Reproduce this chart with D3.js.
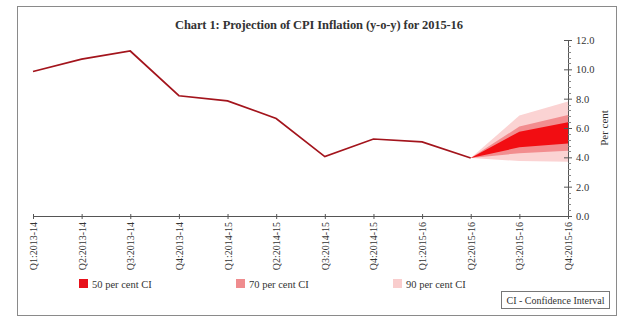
<!DOCTYPE html>
<html>
<head>
<meta charset="utf-8">
<script src="https://cdn.jsdelivr.net/npm/d3@7.9.0/dist/d3.min.js"></script>
<style>
  body { margin: 0; background: #fff; }
  svg text { font-family: "Liberation Serif", "DejaVu Serif", serif; fill: #333; }
</style>
</head>
<body>
<svg width="630" height="324"></svg>
<script>
// Quarters on the x axis
const categories = [
  'Q1:2013-14', 'Q2:2013-14', 'Q3:2013-14', 'Q4:2013-14',
  'Q1:2014-15', 'Q2:2014-15', 'Q3:2014-15', 'Q4:2014-15',
  'Q1:2015-16', 'Q2:2015-16', 'Q3:2015-16', 'Q4:2015-16'
];

// Actual CPI inflation (per cent)
const actual = [9.85, 10.7, 11.25, 8.2, 7.85, 6.65, 4.05, 5.25, 5.05, 3.95];

// Projection fan, starting from Q2:2015-16
const fanQuarters = ['Q2:2015-16', 'Q3:2015-16', 'Q4:2015-16'];
const ci90Upper = [3.95, 6.85, 7.8];
const ci90Lower = [3.95, 3.75, 3.7];
const ci70Upper = [3.95, 6.1, 6.88];
const ci70Lower = [3.95, 4.28, 4.45];
const ci50Upper = [3.95, 5.75, 6.4];
const ci50Lower = [3.95, 4.68, 4.95];

const yTicks = [0, 2, 4, 6, 8, 10, 12];

const svg = d3.select('svg');

// Outer frame
svg.append('rect')
  .attr('x', 17.5).attr('y', 6.5)
  .attr('width', 599).attr('height', 309)
  .attr('fill', 'none').attr('stroke', '#8a8a8a');

// Title
svg.append('text')
  .attr('x', 319).attr('y', 29)
  .attr('text-anchor', 'middle')
  .attr('font-size', 12.5).attr('font-weight', 'bold')
  .attr('textLength', 288)
  .text('Chart 1: Projection of CPI Inflation (y-o-y) for 2015-16');

let x = d3.scalePoint().domain(categories).range([33, 568]);
let y = d3.scaleLinear().domain([0, 12]).range([216, 40]);

// Fan bands, widest first
const bands = [
  { upper: ci90Upper, lower: ci90Lower, color: '#fbd3d3' },
  { upper: ci70Upper, lower: ci70Lower, color: '#f28d8f' },
  { upper: ci50Upper, lower: ci50Lower, color: '#f20d12' }
];

let area = d3.area()
  .x((d) => x(d.q))
  .y0((d) => y(d.lo))
  .y1((d) => y(d.hi));

bands.forEach((b) => {
  let pts = fanQuarters.map((q, i) => ({ q: q, lo: b.lower[i], hi: b.upper[i] }));
  svg.append('path')
    .attr('d', area(pts))
    .attr('fill', b.color);
});

// Actual line
let line = d3.line()
  .x((d, i) => x(categories[i]))
  .y((d) => y(d));

svg.append('path')
  .attr('d', line(actual))
  .attr('fill', 'none')
  .attr('stroke', '#a3141c')
  .attr('stroke-width', 1.7);

// X axis
let xAxis = svg.append('g')
  .attr('transform', 'translate(0,216)')
  .call(d3.axisBottom(x).tickSize(3).tickSizeOuter(0));

xAxis.select('.domain').attr('stroke', '#555');
xAxis.selectAll('.tick line').attr('stroke', '#555').attr('y1', -2);
xAxis.selectAll('.tick text')
  .attr('transform', 'rotate(-90)')
  .attr('text-anchor', 'end')
  .attr('x', -6).attr('y', 0).attr('dy', '0.35em')
  .attr('font-size', 10)
  .attr('font-family', '"Liberation Serif", serif')
  .attr('fill', '#333');

// Y axis on the right
let yAxis = svg.append('g')
  .attr('transform', 'translate(568,0)')
  .call(d3.axisRight(y).tickValues(yTicks).tickFormat(d3.format('.1f')).tickSize(4).tickSizeOuter(0));

yAxis.select('.domain').attr('stroke', '#555');
yAxis.selectAll('.tick line').attr('stroke', '#555').attr('x1', -4);
yAxis.selectAll('.tick text')
  .attr('x', 8)
  .attr('font-size', 10.5)
  .attr('font-family', '"Liberation Serif", serif')
  .attr('fill', '#444');

// Minor ticks
let minor = d3.range(0, 12.01, 0.4).filter((v) => Math.abs(v / 2 - Math.round(v / 2)) > 0.01);
svg.append('g').selectAll('line')
  .data(minor)
  .join('line')
  .attr('x1', 568).attr('x2', 571)
  .attr('y1', (d) => Math.round(y(d)) + 0.5)
  .attr('y2', (d) => Math.round(y(d)) + 0.5)
  .attr('stroke', '#888');

// Y axis title
svg.append('text')
  .attr('transform', 'translate(608,' + y(6) + ') rotate(-90)')
  .attr('text-anchor', 'middle')
  .attr('font-size', 11)
  .text('Per cent');

// Legend
const legendItems = [
  { label: '50 per cent CI', color: '#e8101a', x: 79 },
  { label: '70 per cent CI', color: '#ef8c8e', x: 236 },
  { label: '90 per cent CI', color: '#f9cdcd', x: 393 }
];

let legend = svg.append('g');
legendItems.forEach((d) => {
  legend.append('rect')
    .attr('x', d.x).attr('y', 279)
    .attr('width', 9).attr('height', 9)
    .attr('fill', d.color);
  legend.append('text')
    .attr('x', d.x + 13).attr('y', 287.5)
    .attr('font-size', 10.5)
    .text(d.label);
});

// Note box
svg.append('rect')
  .attr('x', 501.5).attr('y', 291.5)
  .attr('width', 108).attr('height', 17)
  .attr('fill', '#fff').attr('stroke', '#777');

svg.append('text')
  .attr('x', 555.5).attr('y', 303.5)
  .attr('text-anchor', 'middle')
  .attr('font-size', 10)
  .text('CI - Confidence Interval');
</script>
</body>
</html>
